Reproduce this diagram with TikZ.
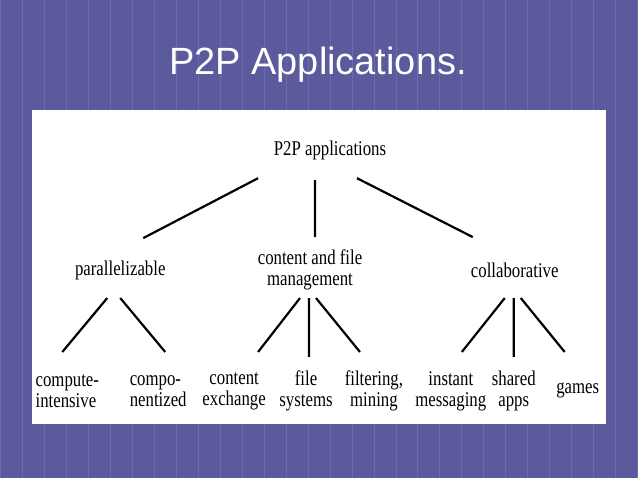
\documentclass[tikz,border=0pt]{standalone}
\usepackage{fontspec}
\setmainfont{Liberation Serif}
\setsansfont{Liberation Sans}
\begin{document}
\begin{tikzpicture}[x=1pt,y=-1pt,
  lbl/.style={font=\fontsize{21}{21}\selectfont,align=center,inner sep=0pt,xscale=0.8},
  lft/.style={lbl,align=left},
  edge/.style={line width=2.2pt}]
\definecolor{bg}{HTML}{5A5A9C}
\definecolor{grid}{HTML}{6C6CAA}
\fill[bg] (0,0) rectangle (638,478);
\draw[grid,line width=0.8pt] (0,0) grid[step=22] (638,478);
\useasboundingbox (0,0) rectangle (638,478);
\node[font=\sffamily\fontsize{38}{40}\selectfont,text=white] (title) at (318,64) {P2P Applications.};
\fill[white] (32,110) rectangle (606,424);
\node[lbl] (root) at (330,150) {P2P applications};
\node[lbl] (par) at (120,270) {parallelizable};
\node[lbl] (cfm) at (310,270) {content and file\\management};
\node[lbl] (col) at (515,270) {collaborative};
\node[lft] (l1) at (67,391) {compute-\\intensive};
\node[lft] (l2) at (158,391) {compo-\\nentized};
\node[lbl] (l3) at (234,391) {content\\exchange};
\node[lbl] (l4) at (306,391) {file\\systems};
\node[lbl] (l5) at (374,391) {filtering,\\mining};
\node[lbl] (l6) at (451,391) {instant\\messaging};
\node[lbl] (l7) at (514,391) {shared\\apps};
\node[lbl] (l8) at (578,390) {games};
\foreach \n/\x/\y in {r1/258/178,r2/315/180,r3/357/178,pa/143/238,ca/315/237,co/473/237,
  p1/107/298,p2/120/298,q1/62/352,q2/165/352,
  c1/300/298,c2/309/298,c3/316/298,d1/258/352,d2/309/357,d3/360/352,
  k1/505/298,k2/514/298,k3/521/298,e1/462/352,e2/514/357,e3/565/352}
  \coordinate (\n) at (\x,\y);
\draw[edge] (r1)--(pa) (r2)--(ca) (r3)--(co)
  (p1)--(q1) (p2)--(q2) (c1)--(d1) (c2)--(d2) (c3)--(d3)
  (k1)--(e1) (k2)--(e2) (k3)--(e3);
\end{tikzpicture}
\end{document}
